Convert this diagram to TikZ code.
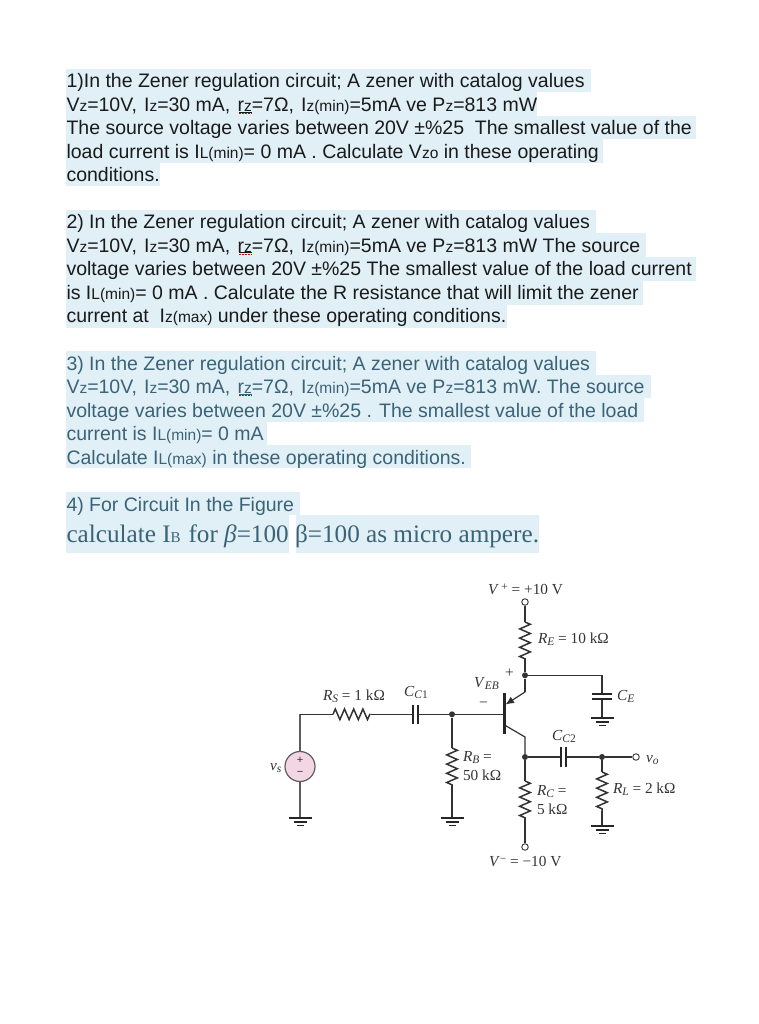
\documentclass[tikz,border=0pt]{standalone}
\usepackage{fontspec}
\setmainfont{Liberation Sans}
\newfontfamily\tnr{Liberation Serif}
\usetikzlibrary{decorations.pathmorphing,arrows.meta}
\definecolor{hl}{HTML}{E1F0F7}
\definecolor{txa}{HTML}{1A1A1A}
\definecolor{txb}{HTML}{3B6377}
\definecolor{wire}{HTML}{333333}
\definecolor{srcfill}{HTML}{F3D6E4}
\newcommand{\smt}[1]{{\fontsize{15.5}{15.5}\selectfont #1}}
\newcommand{\csp}{\hspace{1.7pt}}
\newcommand{\ci}[1]{\textit{#1}}
\newcommand{\csub}[1]{\raisebox{-2.5pt}{\fontsize{11.5}{11.5}\selectfont\textit{#1}}}
\tikzset{
  x=1pt,y=-1pt,
  band/.style={fill=hl,draw=none},
  linea/.style={anchor=base west,inner sep=0pt,outer sep=0pt,text=txa,font=\fontsize{19.5}{20}\selectfont},
  lineb/.style={linea,text=txb},
  linec/.style={anchor=base west,inner sep=0pt,outer sep=0pt,text=txb,font=\tnr\fontsize{25.2}{26}\selectfont},
  lab/.style={anchor=base west,inner sep=0pt,outer sep=0pt,text=wire,font=\tnr\fontsize{15.3}{15.3}\selectfont},
  wr/.style={draw=wire,line width=1.2pt},
  res/.style={draw=wire,line width=1.5pt,decorate,decoration={zigzag,segment length=9.2pt,amplitude=5.3pt}},
  plate/.style={draw=black!85,line width=2.5pt},
  dot/.style={circle,fill=wire,inner sep=0pt,minimum size=6pt},
  term/.style={circle,draw=wire,fill=white,line width=.9pt,inner sep=0pt,minimum size=6.5pt},
  gbar/.style={draw=black!85,line width=1.8pt},
  src/.style={circle,draw=wire!80,fill=srcfill,line width=1.2pt,inner sep=0pt,minimum size=30pt},
  sq/.style={draw=red!85!black,line width=1.2pt,dash pattern=on 1.6pt off 1.4pt},
  ul/.style={draw=txa,line width=.7pt},
  gnd/.pic={
    \draw[gbar] (-11.5,0) -- (11.5,0);
    \draw[gbar] (-6.5,4) -- (6.5,4);
    \draw[gbar] (-3.5,7.5) -- (3.5,7.5);
  }
}
\begin{document}
\begin{tikzpicture}
\useasboundingbox (0,0) rectangle (759,1024);
% highlight bands
\fill[band] (66,69) rectangle (591,92);
\fill[band] (66,92) rectangle (537,116);
\fill[band] (66,116) rectangle (696,139.5);
\fill[band] (66,139.5) rectangle (603,163);
\fill[band] (66,163) rectangle (160,186);
\fill[band] (66,210) rectangle (596,233.5);
\fill[band] (66,233.5) rectangle (646,257);
\fill[band] (66,257) rectangle (696,281);
\fill[band] (66,281) rectangle (643,304.5);
\fill[band] (66,304.5) rectangle (507,328);
\fill[band] (66,351) rectangle (596,374.5);
\fill[band] (66,374.5) rectangle (651,398);
\fill[band] (66,398) rectangle (644,421.5);
\fill[band] (66,421.5) rectangle (267,445);
\fill[band] (66,445) rectangle (471,468);
\fill[band] (66,492) rectangle (300,515);
\fill[band] (66,515) rectangle (289,553);
\fill[band] (296,515) rectangle (539,553);
% text
\node[linea] (t11) at (66.5,88) {1)In the Zener regulation circuit; A zener with catalog values};
\node[linea] (t12) at (66.5,111.5) {V\smt{z}=10V,\csp{} I\smt{z}=30 mA,\csp{} r\smt{z}=7Ω,\csp{} I\smt{z(min)}=5mA ve P\smt{z}=813 mW};
\node[linea] (t13) at (66.5,135) {The source voltage varies between 20V ±\%25\ \ The smallest value of the};
\node[linea] (t14) at (66.5,158.5) {load current is I\smt{L(min)}= 0 mA . Calculate V\smt{zo} in these operating};
\node[linea] (t15) at (66.5,182) {conditions.};
\node[linea] (t21) at (66.5,228.5) {2) In the Zener regulation circuit; A zener with catalog values};
\node[linea] (t22) at (66.5,252) {V\smt{z}=10V,\csp{} I\smt{z}=30 mA,\csp{} r\smt{z}=7Ω,\csp{} I\smt{z(min)}=5mA ve P\smt{z}=813 mW The source};
\node[linea] (t23) at (66.5,275.5) {voltage varies between 20V ±\%25 The smallest value of the load current};
\node[linea] (t24) at (66.5,299) {is I\smt{L(min)}= 0 mA . Calculate the R resistance that will limit the zener};
\node[linea] (t25) at (66.5,322.5) {current at\ \ I\smt{z(max)} under these operating conditions.};
\node[lineb] (t31) at (66.5,370) {3) In the Zener regulation circuit; A zener with catalog values};
\node[lineb] (t32) at (66.5,393.5) {V\smt{z}=10V,\csp{} I\smt{z}=30 mA,\csp{} r\smt{z}=7Ω,\csp{} I\smt{z(min)}=5mA ve P\smt{z}=813 mW. The source};
\node[lineb] (t33) at (66.5,417) {voltage varies between 20V ±\%25 . The smallest value of the load};
\node[lineb] (t34) at (66.5,440.5) {current is I\smt{L(min)}= 0 mA};
\node[lineb] (t35) at (66.5,464) {Calculate I\smt{L(max)} in these operating conditions.};
\node[lineb] (t41) at (66.5,511) {4) For Circuit In the Figure};
\node[linec] (t42) at (66.5,542.5) {calculate I{\fontsize{15}{15}\selectfont B}\hspace{1.5pt}  for \textit{β}=100 β=100 as micro ampere.};
% spell-check underlines
\draw[ul] (239,112) -- (252,112);
\draw[sq] (239,113.5) -- (252,113.5);
\draw[ul] (239,252.8) -- (252,252.8);
\draw[sq] (239,254.3) -- (252,254.3);
\draw[ul,draw=txb] (239,394) -- (252,394);
\draw[sq] (239,395.5) -- (252,395.5);
% circuit points
\node[src] (vs) at (300,766.5) {};
\node[inner sep=0pt,font=\fontsize{11}{11}\selectfont,text=wire] (vsp) at (300,760.5) {+};
\node[inner sep=0pt,font=\fontsize{11}{11}\selectfont,text=wire] (vsm) at (300,773.5) {−};
\coordinate (tl) at (300,714.3);
\coordinate (g1) at (300,818);
\coordinate (rs1) at (333,714.3);
\coordinate (rs2) at (370.5,714.3);
\coordinate (c1a) at (413,714.3);
\coordinate (c1b) at (418,714.3);
\node[dot] (nb) at (452,714.3) {};
\coordinate (bb) at (504,714.3);
\coordinate (rb1) at (452,748);
\coordinate (rb2) at (452,785);
\coordinate (g2) at (452,818);
\coordinate (bart) at (504,693);
\coordinate (barb) at (504,734);
\coordinate (ee) at (505.5,704.5);
\coordinate (ek) at (525,692);
\coordinate (ck) at (525,737);
\coordinate (ce) at (504.5,725);
\node[dot] (ne) at (525,675.3) {};
\node[term] (vp) at (525,602) {};
\coordinate (re1) at (525,622);
\coordinate (re2) at (525,659);
\coordinate (cet) at (602,675.3);
\coordinate (cea) at (602,694);
\coordinate (ceb) at (602,699);
\coordinate (g3) at (602,718);
\node[dot] (nc) at (525,757) {};
\coordinate (rc1) at (525,781);
\coordinate (rc2) at (525,818);
\node[term] (vm) at (525,847) {};
\coordinate (c2a) at (561,757);
\coordinate (c2b) at (566,757);
\node[dot] (no) at (602,757) {};
\node[term] (vo) at (636,757) {};
\coordinate (rl1) at (602,772);
\coordinate (rl2) at (602,811);
\coordinate (g4) at (602,826);
% wires
\draw[wr,draw=wire!80] (vs) -- (tl);
\draw[wr] (tl) -- (rs1);
\draw[res] (rs1) -- (rs2);
\draw[wr] (rs2) -- (c1a);
\draw[wr] (c1b) -- (nb);
\draw[wr] (nb) -- (bb);
\draw[wr,draw=wire!80] (vs) -- (g1);
\draw[wr] (nb) -- (rb1);
\draw[res] (rb1) -- (rb2);
\draw[wr] (rb2) -- (g2);
\draw[wr] (vp) -- (re1);
\draw[res] (re1) -- (re2);
\draw[wr] (re2) -- (ne);
\draw[wr] (ne) -- (ek);
\draw[wr,-{Latex[length=8.5pt,width=7.5pt,fill=black!85]}] (ek) -- (ee);
\draw[wr] (ne) -- (cet) -- (cea);
\draw[wr] (ceb) -- (g3);
\draw[wr] (ce) -- (ck) -- (nc);
\draw[wr] (nc) -- (rc1);
\draw[res] (rc1) -- (rc2);
\draw[wr] (rc2) -- (vm);
\draw[wr] (nc) -- (c2a);
\draw[wr] (c2b) -- (no);
\draw[wr] (no) -- (vo);
\draw[wr] (no) -- (rl1);
\draw[res] (rl1) -- (rl2);
\draw[wr] (rl2) -- (g4);
% plates and bars
\draw[plate] (413,705) -- (413,724);
\draw[plate] (418,705) -- (418,724);
\draw[plate] (561,747) -- (561,767);
\draw[plate] (566,747) -- (566,767);
\draw[plate] (591.5,694) -- (612,694);
\draw[plate] (591.5,699) -- (612,699);
\draw[plate,line width=3pt] (bart) -- (barb);
\pic at (g1) {gnd};
\pic at (g2) {gnd};
\pic at (g3) {gnd};
\pic at (g4) {gnd};
% labels
\node[lab] (lvp) at (488,594) {\ci{V}\,\raisebox{4pt}{\fontsize{11.5}{11.5}\selectfont +} = +10 V};
\node[lab] (lre) at (538,643) {\ci{R}\csub{E} = 10 kΩ};
\node[lab] (lplus) at (505,677) {+};
\node[lab] (lveb) at (474,687) {\ci{V}\csub{EB}};
\node[lab] (lminus) at (479,707) {−};
\node[lab] (lrs) at (323,700) {\ci{R}\csub{S} = 1 kΩ};
\node[lab] (lc1) at (404,696) {\ci{C}\raisebox{-2.5pt}{\fontsize{11.5}{11.5}\selectfont\textit{C}1}};
\node[lab] (lvs) at (270,770) {\ci{v}\csub{s}};
\node[lab] (lrb) at (463,761) {\ci{R}\csub{B} =};
\node[lab] (lrb2) at (463,780) {50 kΩ};
\node[lab] (lce) at (617,700) {\ci{C}\csub{E}};
\node[lab] (lc2) at (552,740) {\ci{C}\raisebox{-2.5pt}{\fontsize{11.5}{11.5}\selectfont\textit{C}2}};
\node[lab] (lvo) at (646,762) {\ci{v}\csub{o}};
\node[lab] (lrc) at (537,795) {\ci{R}\csub{C} =};
\node[lab] (lrc2) at (537,814) {5 kΩ};
\node[lab] (lrl) at (613,793) {\ci{R}\csub{L} = 2 kΩ};
\node[lab] (lvm) at (489,866) {\ci{V}\raisebox{4pt}{\fontsize{11.5}{11.5}\selectfont −} = −10 V};
\end{tikzpicture}
\end{document}
